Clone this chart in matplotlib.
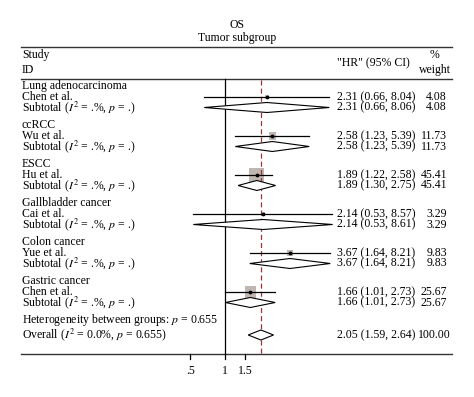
import numpy as np
import matplotlib
matplotlib.use('Agg')
import matplotlib.pyplot as plt

plt.rcParams['font.family'] = ['Liberation Serif', 'DejaVu Serif']
plt.rcParams['mathtext.fontset'] = 'stix'

# data
groups = ['Lung adenocarcinoma', 'ccRCC', 'ESCC', 'Gallbladder cancer',
          'Colon cancer', 'Gastric cancer']
studies = ['Chen et al.', 'Wu et al.', 'Hu et al.', 'Cai et al.',
           'Yue et al.', 'Chen et al.']
hr = [2.31, 2.58, 1.89, 2.14, 3.67, 1.66]
lo = [0.66, 1.23, 1.22, 0.53, 1.64, 1.01]
hi = [8.04, 5.39, 2.58, 8.57, 8.21, 2.73]
sub_hr = [2.31, 2.58, 1.89, 2.14, 3.67, 1.66]
sub_lo = [0.66, 1.23, 1.30, 0.53, 1.64, 1.01]
sub_hi = [8.06, 5.39, 2.75, 8.61, 8.21, 2.73]
weight = [4.08, 11.73, 45.41, 3.29, 9.83, 25.67]
overall_hr, overall_lo, overall_hi = 2.05, 1.59, 2.64
het_p = 0.655
ticks = [0.5, 1, 1.5]
tick_labels = ['.5', '1', '1.5']

W, H = 474, 397
fig = plt.figure(figsize=(W / 100, H / 100), dpi=100)
ax = fig.add_axes([0, 0, 1, 1])
ax.set_xscale('log')
# 1 sits at x=225px, 50px per log unit
ax.set_xlim(np.exp(-225 / 50), np.exp((W - 225) / 50))
ax.set_ylim(H, 0)
ax.axis('off')

fs = 8.5
tx = ax.get_yaxis_transform()  # x in axes fraction, y in data


def px(x):
    return x / W


def text(x, y, s, **kw):
    kw.setdefault('va', 'center')
    kw.setdefault('fontsize', fs)
    ax.text(px(x), y, s, transform=tx, **kw)


def hline(y, x0=21, x1=452):
    ax.plot([px(x0), px(x1)], [y, y], transform=tx, color='#333333', lw=1.0)


def diamond(y, c, l, r, h=5):
    ax.fill([l, c, r, c, l], [y, y - h, y, y + h, y], facecolor='white',
            edgecolor='black', lw=0.8, zorder=3)


# header
text(237, 25, 'OS', ha='center')
text(237, 38, 'Tumor subgroup', ha='center')
hline(47)
text(22, 55, 'Study')
text(22, 70, 'ID')
text(337, 63, '"HR" (95% CI)')
text(434, 55, '%', ha='center')
text(435, 70, 'weight', ha='center')
hline(79)
hline(354)

# reference lines
ax.plot([1, 1], [79, 354], color='black', lw=0.9)
ax.plot([overall_hr, overall_hr], [80, 354], color='#9b3535', lw=0.9,
        dashes=(4, 2.5))

for i in range(len(groups)):
    yg = 86 + 39 * i
    ys = yg + 11
    yt = yg + 21.5
    text(22, yg, groups[i])
    text(22, ys, studies[i])
    text(22, yt, r'Subtotal ($I^2$ = .%, $p$ = .)')

    ax.plot([lo[i], hi[i]], [ys, ys], color='black', lw=0.9, zorder=2)
    side = 2.2 * np.sqrt(weight[i]) * 0.72
    ax.scatter([hr[i]], [ys], marker='s', s=side ** 2, color='#bfb6b1',
               edgecolors='none', zorder=1)
    ax.scatter([hr[i]], [ys], marker='o', s=3, color='black', zorder=4)
    diamond(yt, sub_hr[i], sub_lo[i], sub_hi[i])

    text(337, ys, '%.2f (%.2f, %.2f)' % (hr[i], lo[i], hi[i]))
    text(337, yt, '%.2f (%.2f, %.2f)' % (sub_hr[i], sub_lo[i], sub_hi[i]))
    text(447, ys, '%.2f' % weight[i], ha='right')
    text(447, yt, '%.2f' % weight[i], ha='right')

text(22, 320, r'Heterogeneity between groups: $p$ = %.3f' % het_p)
text(22, 335, r'Overall ($I^2$ = 0.0%%, $p$ = %.3f)' % het_p)
diamond(335, overall_hr, overall_lo, overall_hi)
text(337, 335, '%.2f (%.2f, %.2f)' % (overall_hr, overall_lo, overall_hi))
text(451, 335, '100.00', ha='right')

# x axis ticks
for t, lab in zip(ticks, tick_labels):
    ax.plot([t, t], [354, 359], color='black', lw=0.9)
    ax.text(t, 371, lab, ha='center', va='center', fontsize=fs)

fig.savefig('out.png', dpi=100)
